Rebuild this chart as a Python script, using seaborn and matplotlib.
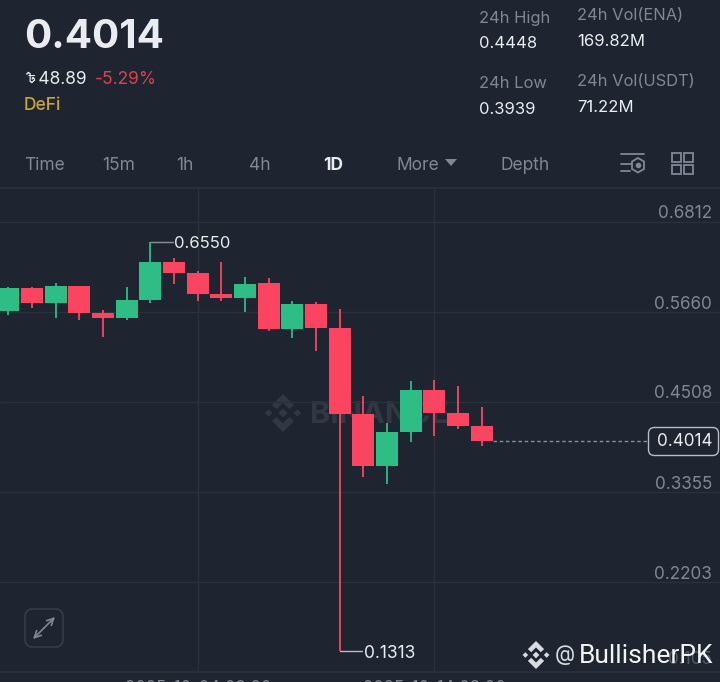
import matplotlib
matplotlib.use("Agg")
import matplotlib.pyplot as plt
from matplotlib import font_manager, ft2font
from matplotlib.patches import FancyBboxPatch, Polygon, Rectangle
import pandas as pd
import seaborn as sns

opens = [.5669, .5971, .5779, .5993, .5643, .5583, .5810, .6304, .6163, .5887, .5835,
         .6027, .5442, .5762, .5459, .4354, .3693, .4120, .4658, .4367, .4201]
closes = [.5971, .5779, .5993, .5643, .5583, .5810, .6304, .6163, .5887, .5835, .6022,
          .5442, .5762, .5459, .4354, .3693, .4120, .4658, .4367, .4201, .4014]
highs = [.5980, .5980, .6031, .5993, .5682, .5980, .6550, .6347, .6189, .6300, .6104,
         .6095, .5797, .5784, .5698, .4585, .4243, .4773, .4790, .4717, .4448]
lows = [.5622, .5711, .5587, .5558, .5336, .5561, .5771, .6018, .5801, .5805, .5660,
        .5421, .5323, .5165, .1313, .3544, .3455, .3992, .4077, .4159, .3939]

price_ticks = [.6812, .5660, .4508, .3355, .2203, .1050]
date_pos = [8, 18]
date_labels = ["2025-10-04 08:00", "2025-10-14 08:00"]
last_price = .4014

BG = "#1E2530"
GRID = "#2A313B"
GREEN = "#2EBD85"
RED = "#FB4560"
WHITE = "#EAECEF"
GREY = "#7F8894"

sns.set_theme(style="dark")
plt.rcParams["font.family"] = ["Inter", "Noto Sans", "DejaVu Sans"]

fig = plt.figure(figsize=(7.2, 6.82), dpi=100, facecolor=BG)


def pixel_axes(z):
    a = fig.add_axes([0, 0, 1, 1], zorder=z)
    a.set_xlim(0, 720)
    a.set_ylim(682, 0)
    a.axis("off")
    return a


def logo(a, cx, cy, r, color):
    def diamond(dx, dy, h):
        a.add_patch(Polygon([(cx + dx, cy + dy - h), (cx + dx + h, cy + dy),
                             (cx + dx, cy + dy + h), (cx + dx - h, cy + dy)], color=color, lw=0))
    diamond(0, 0, .24 * r)
    diamond(-.76 * r, 0, .2 * r)
    diamond(.76 * r, 0, .2 * r)
    for s in (-1, 1):
        a.add_patch(Polygon([(cx, cy + s * r), (cx + .58 * r, cy + s * .42 * r), (cx + .34 * r, cy + s * .2 * r),
                             (cx, cy + s * .54 * r), (cx - .34 * r, cy + s * .2 * r),
                             (cx - .58 * r, cy + s * .42 * r)], color=color, lw=0))


def family_with_char(code):
    for entry in font_manager.fontManager.ttflist:
        try:
            if code in ft2font.FT2Font(entry.fname).get_charmap():
                return entry.name
        except (OSError, RuntimeError):
            continue
    return None


back = pixel_axes(0)
logo(back, 283, 413, 19, "#313843")
back.text(310, 415, "BINANCE", color="#313843", fontsize=22, fontweight="bold", va="center")

# chart area runs from the header divider down to the time axis
ax = fig.add_axes([0, 10 / 682, 1, 484 / 682], zorder=1)
ax.patch.set_visible(False)

df = pd.DataFrame({"day": range(len(opens)), "open": opens, "close": closes, "high": highs, "low": lows})
df["base"] = df[["open", "close"]].min(axis=1)
df["body"] = (df["close"] - df["open"]).abs()
up = df[df["close"] >= df["open"]]
down = df[df["close"] < df["open"]]

ax.vlines(up["day"], up["low"], up["high"], color=GREEN, lw=1.3, zorder=3)
ax.vlines(down["day"], down["low"], down["high"], color=RED, lw=1.3, zorder=3)
for part, col in ((up, GREEN), (down, RED)):
    sns.barplot(data=part, x="day", y="body", bottom=part["base"].values, native_scale=True, width=.93,
                color=col, saturation=1, errorbar=None, linewidth=0, zorder=4, ax=ax)

ax.set_xlim(-.359, 30.08)
ax.set_ylim(.1052, .72472)
ax.set_xlabel("")
ax.set_ylabel("")
ax.set_yticks(price_ticks)
ax.set_xticks(date_pos, date_labels)
ax.grid(True, color=GRID, lw=1)
ax.set_axisbelow(True)
ax.tick_params(axis="x", length=0, pad=6, labelsize=12, labelcolor=GREY)
ax.tick_params(axis="y", length=0, labelleft=False)
for side, sp in ax.spines.items():
    sp.set_visible(side in ("top", "bottom"))
    sp.set_color(GRID)

# high / low callouts and last price
ax.plot([6, 6.95], [.6550, .6550], color="#8A9099", lw=1)
ax.plot([14, 14.95], [.1313, .1313], color="#B9BEC5", lw=1)
ax.hlines(last_price, 20.5, 27, color="#8A9099", lw=1, ls=(0, (2.5, 2)))

top = pixel_axes(2)
top.text(174, 244, "0.6550", color=WHITE, fontsize=12, va="center")
top.text(364, 653, "0.1313", color=WHITE, fontsize=12.5, va="center")
for p in price_ticks:
    yp = 222 + (.6812 - p) / .00128
    yc = yp - 8 if p > .11 else 660
    top.text(712, yc, f"{p:.4f}" if p > .11 else "0.105", color=GREY, fontsize=12.3, va="center", ha="right",
             alpha=1 if p > .11 else .55)

top.add_patch(FancyBboxPatch((648.5, 427.5), 70, 28, boxstyle="round,pad=0,rounding_size=6", fc=BG, ec="#B9BEC5", lw=1))
top.text(684.5, 442, "0.4014", color=WHITE, fontsize=12.3, va="center", ha="center")

# header
top.text(24, 37, "0.4014", color=WHITE, fontsize=29, fontweight="bold", va="center")
taka_family = family_with_char(0x09F3)
top.text(22, 79, "\u09f348.89", color=WHITE, fontsize=12.5, va="center",
         family=["Inter"] + ([taka_family] if taka_family else []) + ["DejaVu Sans"])
top.text(95, 79, "-5.29%", color="#D9434F", fontsize=12.5, va="center")
top.text(24, 105, "DeFi", color="#C9A63B", fontsize=12.5, fontweight="medium", va="center")

for xp, lab in ((24, "Time"), (102, "15m"), (176, "1h"), (249, "4h"), (397, "More"), (500, "Depth")):
    top.text(xp, 166, lab, color=GREY, fontsize=12.5, va="center")
top.text(323, 166, "1D", color=WHITE, fontsize=12.5, fontweight="bold", va="center")
top.add_patch(Polygon([(445, 159), (457, 159), (451, 166)], color=GREY, lw=0))

for xp, yp, lab, val in ((479, 18, "24h High", "0.4448"), (479, 83, "24h Low", "0.3939"),
                         (577, 16, "24h Vol(ENA)", "169.82M"), (577, 81, "24h Vol(USDT)", "71.22M")):
    top.text(xp, yp, lab, color=GREY, fontsize=11.9, va="center")
    top.text(xp, yp + 26, val, color=WHITE, fontsize=12, va="center")

# toolbar icons
top.plot([621, 644], [154, 154], color=GREY, lw=1.3)
top.plot([621, 632], [164, 164], color=GREY, lw=1.3)
top.plot([621, 630], [171, 171], color=GREY, lw=1.3)
top.add_patch(Polygon([(638, 158), (644, 161.5), (644, 169), (638, 172.5), (632, 169), (632, 161.5)],
                      fc="none", ec=GREY, lw=1.3))
top.plot([638], [165], "o", ms=3, color=GREY)
for xp in (672, 684):
    for yp in (153, 165):
        top.add_patch(Rectangle((xp, yp), 9, 9, fc="none", ec=GREY, lw=1.3))

# expand button
top.add_patch(FancyBboxPatch((25, 609), 38, 38, boxstyle="round,pad=0,rounding_size=8", fc="none", ec="#343B46", lw=1.3))
top.annotate("", xy=(55, 617), xytext=(44, 628), arrowprops=dict(arrowstyle="->", color=GREY, lw=1.2, shrinkA=0, shrinkB=0))
top.annotate("", xy=(33, 639), xytext=(44, 628), arrowprops=dict(arrowstyle="->", color=GREY, lw=1.2, shrinkA=0, shrinkB=0))

# repost watermark
logo(top, 536, 655, 14, "#D8DBDF")
top.text(555, 655, "@", color="#D8DBDF", fontsize=15, va="center")
top.text(579, 656, "BullisherPK", color="#F2F3F5", fontsize=19, va="center", family=["Roboto", "DejaVu Sans"])

fig.savefig("out.png", dpi=100, facecolor=BG)
